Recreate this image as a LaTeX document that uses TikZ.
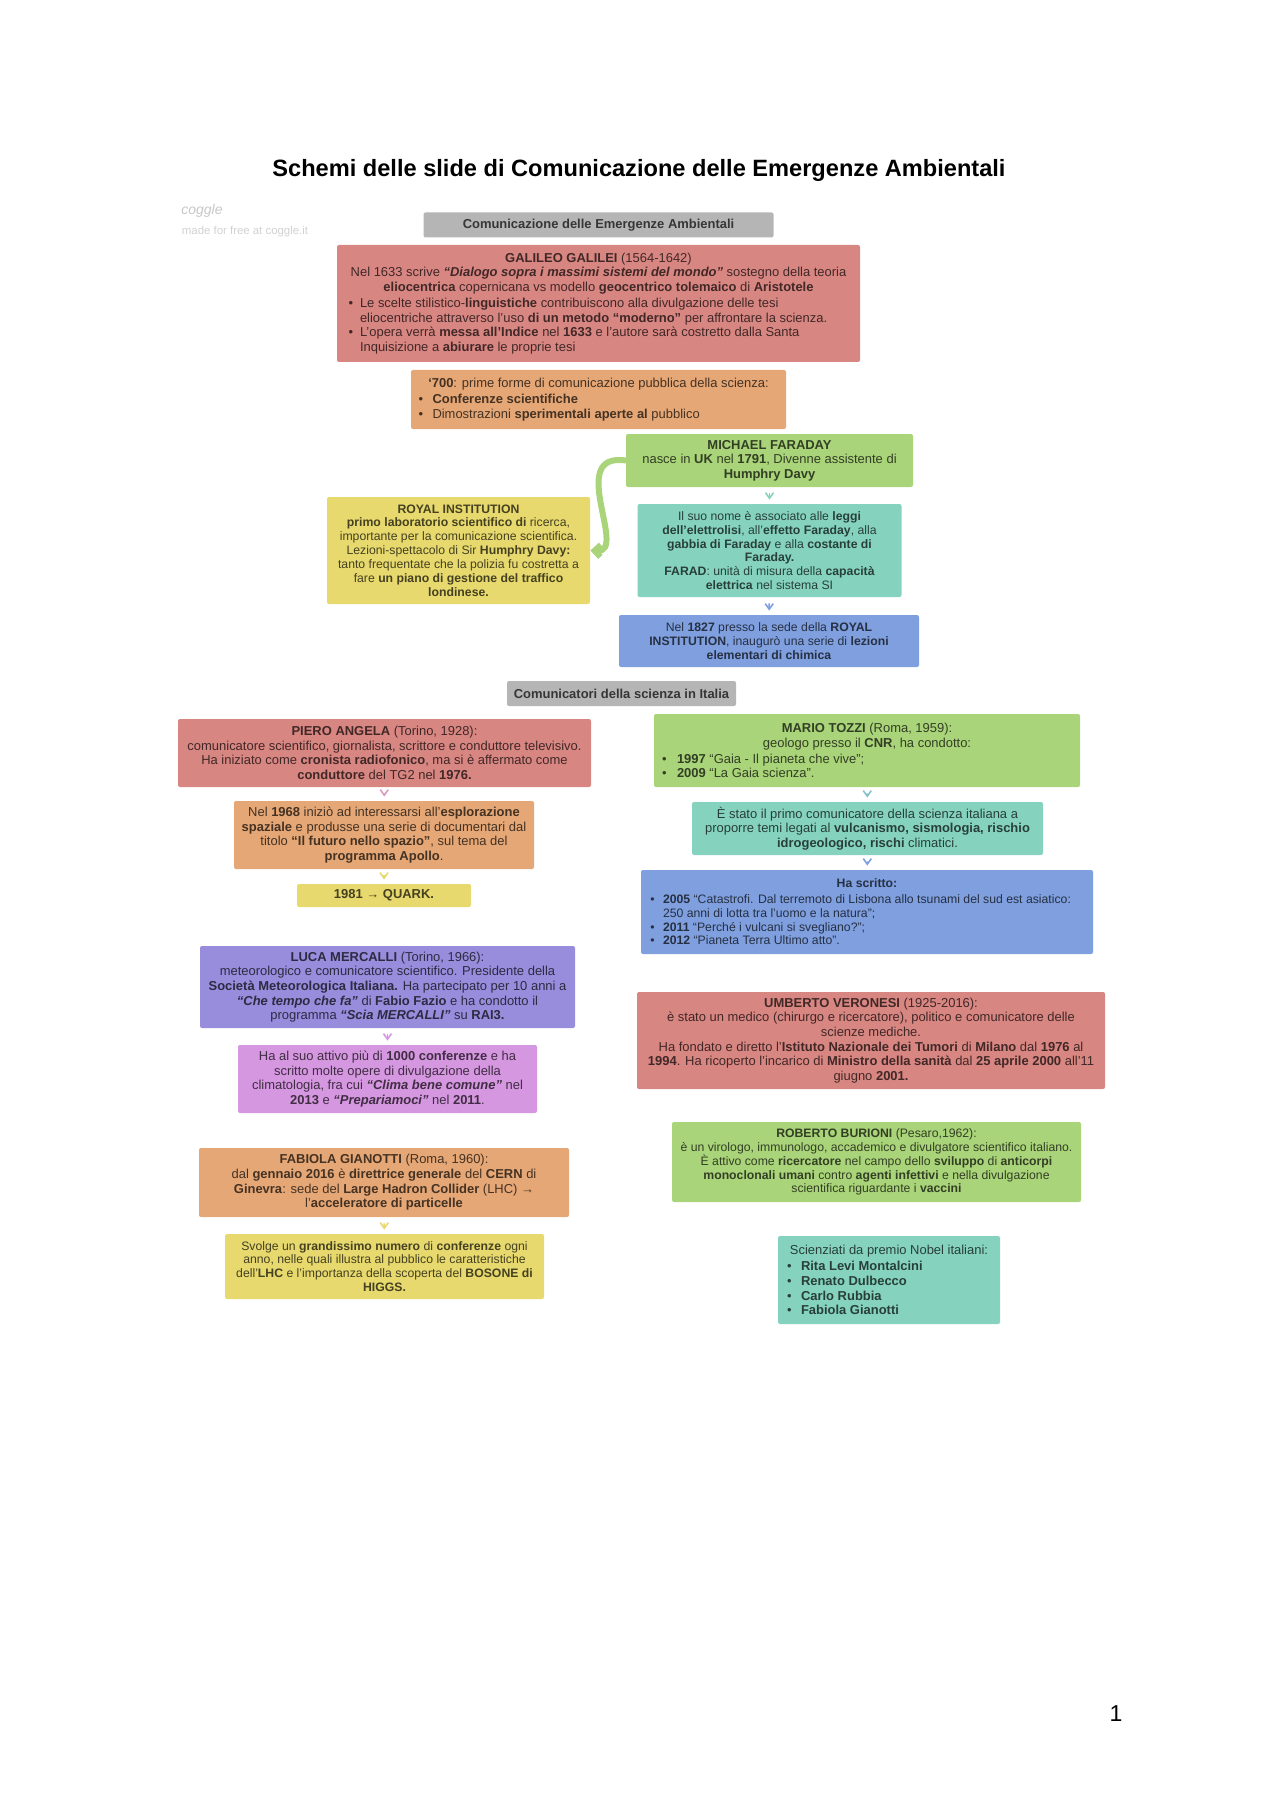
\documentclass[tikz,border=0pt]{standalone}
\usepackage{fontspec}
\setmainfont{Liberation Sans}
\usepackage{tikz}
\usetikzlibrary{arrows.meta}

\definecolor{cardgrey}{HTML}{B5B5B5}
\definecolor{cardred}{HTML}{D88682}
\definecolor{cardorange}{HTML}{E5A776}
\definecolor{cardgreen}{HTML}{A9D479}
\definecolor{cardteal}{HTML}{85D3BF}
\definecolor{cardblue}{HTML}{7F9FDF}
\definecolor{cardyellow}{HTML}{E7D96E}
\definecolor{cardviolet}{HTML}{978DDC}
\definecolor{cardpink}{HTML}{D597E0}

\newcommand{\cardfont}{\fontsize{6.48}{7.33}\selectfont}
\newcommand{\tightfont}{\fontsize{6.12}{6.95}\selectfont}

\newenvironment{bullets}[1]{%
	\begin{list}{\textbullet}{\setlength\leftmargin{#1}\setlength\labelwidth{2.3pt}\setlength\labelsep{\dimexpr#1-2.3pt\relax}%
		\setlength\itemsep{0pt}\setlength\parsep{0pt}\setlength\topsep{0.8pt}\setlength\partopsep{0pt}\setlength\itemindent{0pt}}\raggedright}%
	{\end{list}}

\tikzset{
	card/.style={fill=#1,text=#1!30!black,rounded corners=1pt,inner sep=0pt,align=center,font=\cardfont},
	tight/.style={font=\tightfont},
	box/.style 2 args={minimum width=#1*0.5pt,minimum height=#2*0.5pt},
	link/.style={draw=#1,line width=0.8pt,shorten >=2pt,shorten <=3pt,-{Straight Barb[length=2.8pt,width=4pt]}},
}

\begin{document}
\begin{tikzpicture}[x=0.5pt,y=-0.5pt]
		\useasboundingbox (0,0) rectangle (1280,1808);

		\node[font=\fontsize{11.8}{13}\selectfont\bfseries] (title) at (639,170.5){Schemi delle slide di Comunicazione delle Emergenze Ambientali};
		\node[text=black!22,font=\fontsize{7}{9}\selectfont\itshape\rmfamily] (logo) at (202,211){coggle};
		\node[text=black!18,font=\fontsize{5.7}{7}\selectfont] (madefor) at (245,232){made for free at coggle.it};

		\node[card=cardgrey,box={350}{25}] (mainhead) at (598.5,225){\textbf{Comunicazione delle Emergenze Ambientali}};

		\node[card=cardred,box={523}{117}] (galileo) at (598.5,303.5){\begin{minipage}{250pt}
						\centering
						\textbf{GALILEO GALILEI} (1564-1642)\\
						Nel 1633 scrive \textbf{\textit{``Dialogo sopra i massimi sistemi del mondo''}} sostegno della teoria\\
						\textbf{eliocentrica} copernicana vs modello \textbf{geocentrico tolemaico} di \textbf{Aristotele}
						\begin{bullets}{5.75pt}
								\item Le scelte stilistico-\textbf{linguistiche} contribuiscono alla divulgazione delle tesi\\
										eliocentriche attraverso l'uso \textbf{di un metodo ``moderno''} per affrontare la scienza.
								\item L'opera verrà \textbf{messa all'Indice} nel \textbf{1633} e l'autore sarà costretto dalla Santa\\
										Inquisizione a \textbf{abiurare} le proprie tesi
						\end{bullets}
					\end{minipage}};

		\node[card=cardorange,box={375}{59}] (settecento) at (598.5,399.5){\begin{minipage}{180pt}
						\centering
						\textbf{`700}: prime forme di comunicazione pubblica della scienza:
						\begin{bullets}{7pt}
								\item \textbf{Conferenze scientifiche}
								\item Dimostrazioni \textbf{sperimentali aperte al} pubblico
						\end{bullets}
					\end{minipage}};

		\node[card=cardgreen,box={287}{53}] (faraday) at (769.5,460.5){\textbf{MICHAEL FARADAY}\\nasce in \textbf{UK} nel \textbf{1791}, Divenne assistente di\\\textbf{Humphry Davy}};
		\node[card=cardteal,tight,box={264}{93}] (leggi) at (769.5,550.5){Il suo nome è associato alle \textbf{leggi}\\\textbf{dell'elettrolisi}, all'\textbf{effetto Faraday}, alla\\\textbf{gabbia di Faraday} e alla \textbf{costante di}\\\textbf{Faraday.}\\\textbf{FARAD}: unità di misura della \textbf{capacità}\\\textbf{elettrica} nel sistema SI};
		\node[card=cardblue,tight,box={300}{52}] (lezioni) at (769,641){Nel \textbf{1827} presso la sede della \textbf{ROYAL}\\\textbf{INSTITUTION}, inaugurò una serie di \textbf{lezioni}\\\textbf{elementari di chimica}};
		\node[card=cardyellow,tight,box={263}{107}] (royal) at (458.5,550.5){\textbf{ROYAL INSTITUTION}\\\textbf{primo laboratorio scientifico di} ricerca,\\importante per la comunicazione scientifica.\\Lezioni-spettacolo di Sir \textbf{Humphry Davy:}\\tanto frequentate che la polizia fu costretta a\\fare \textbf{un piano di gestione del traffico}\\\textbf{londinese.}};

		\node[card=cardgrey,box={229}{25}] (italyhead) at (621.5,693.5){\textbf{Comunicatori della scienza in Italia}};

		\node[card=cardred,box={413}{68}] (angela) at (384.5,753){\textbf{PIERO ANGELA} (Torino, 1928):\\comunicatore scientifico, giornalista, scrittore e conduttore televisivo.\\Ha iniziato come \textbf{cronista radiofonico}, ma si è affermato come\\\textbf{conduttore} del TG2 nel \textbf{1976.}};
		\node[card=cardorange,box={300}{68}] (apollo) at (384,835){Nel \textbf{1968} iniziò ad interessarsi all'\textbf{esplorazione}\\\textbf{spaziale} e produsse una serie di documentari dal\\titolo \textbf{``Il futuro nello spazio''}, sul tema del\\\textbf{programma Apollo}.};
		\node[card=cardyellow,box={174}{23}] (quark) at (384,895.5){\textbf{1981 → QUARK.}};

		\node[card=cardviolet,box={375}{82}] (mercalli) at (387.5,987){\textbf{LUCA MERCALLI} (Torino, 1966):\\meteorologico e comunicatore scientifico. Presidente della\\\textbf{Società Meteorologica Italiana.} Ha partecipato per 10 anni a\\\textbf{\textit{``Che tempo che fa''}} di \textbf{Fabio Fazio} e ha condotto il\\programma \textbf{\textit{``Scia MERCALLI''}} su \textbf{RAI3.}};
		\node[card=cardpink,box={299}{68}] (clima) at (387.5,1079){Ha al suo attivo più di \textbf{1000 conferenze} e ha\\scritto molte opere di divulgazione della\\climatologia, fra cui \textbf{\textit{``Clima bene comune''}} nel\\\textbf{2013} e \textbf{\textit{``Prepariamoci''}} nel \textbf{2011}.};

		\node[card=cardorange,box={370}{69}] (gianotti) at (384,1182.5){\textbf{FABIOLA GIANOTTI} (Roma, 1960):\\dal \textbf{gennaio 2016} è \textbf{direttrice generale} del \textbf{CERN} di\\\textbf{Ginevra}: sede del \textbf{Large Hadron Collider} (LHC) →\\l'\textbf{acceleratore di particelle}};
		\node[card=cardyellow,tight,box={319}{65}] (higgs) at (384.5,1266.5){Svolge un \textbf{grandissimo numero} di \textbf{conferenze} ogni\\anno, nelle quali illustra al pubblico le caratteristiche\\dell'\textbf{LHC} e l'importanza della scoperta del \textbf{BOSONE di}\\\textbf{HIGGS.}};

		\node[card=cardgreen,box={426}{73}] (tozzi) at (867,750.5){\begin{minipage}{205pt}
						\centering
						\textbf{MARIO TOZZI} (Roma, 1959):\\
						geologo presso il \textbf{CNR}, ha condotto:
						\begin{bullets}{7.5pt}
								\item \textbf{1997} ``Gaia - Il pianeta che vive'';
								\item \textbf{2009} ``La Gaia scienza''.
						\end{bullets}
					\end{minipage}};
		\node[card=cardteal,box={351}{53}] (vulcani) at (867.5,828.5){È stato il primo comunicatore della scienza italiana a\\proporre temi legati al \textbf{vulcanismo, sismologia, rischio}\\\textbf{idrogeologico, rischi} climatici.};
		\node[card=cardblue,tight,box={452}{84}] (scritti) at (867,912){\begin{minipage}{217pt}
						\centering
						\textbf{Ha scritto:}
						\begin{bullets}{6.5pt}
								\item \textbf{2005} ``Catastrofi. Dal terremoto di Lisbona allo tsunami del sud est asiatico:\\
										250 anni di lotta tra l'uomo e la natura'';
								\item \textbf{2011} ``Perché i vulcani si svegliano?'';
								\item \textbf{2012} ``Pianeta Terra Ultimo atto''.
						\end{bullets}
					\end{minipage}};

		\node[card=cardred,box={468}{97}] (veronesi) at (871,1040.5){\textbf{UMBERTO VERONESI} (1925-2016):\\è stato un medico (chirurgo e ricercatore), politico e comunicatore delle\\scienze mediche.\\Ha fondato e diretto l'\textbf{Istituto Nazionale dei Tumori} di \textbf{Milano} dal \textbf{1976} al\\\textbf{1994}. Ha ricoperto l'incarico di \textbf{Ministro della sanità} dal \textbf{25 aprile 2000} all'11\\giugno \textbf{2001.}};

		\node[card=cardgreen,tight,box={409}{80}] (burioni) at (876.5,1162){\textbf{ROBERTO BURIONI} (Pesaro,1962):\\è un virologo, immunologo, accademico e divulgatore scientifico italiano.\\È attivo come \textbf{ricercatore} nel campo dello \textbf{sviluppo} di \textbf{anticorpi}\\\textbf{monoclonali umani} contro \textbf{agenti infettivi} e nella divulgazione\\scientifica riguardante i \textbf{vaccini}};

		\node[card=cardteal,box={222}{88}] (nobel) at (889,1280){\begin{minipage}{102pt}
						\centering
						Scienziati da premio Nobel italiani:
						\begin{bullets}{7pt}
								\item \textbf{Rita Levi Montalcini}
								\item \textbf{Renato Dulbecco}
								\item \textbf{Carlo Rubbia}
								\item \textbf{Fabiola Gianotti}
						\end{bullets}
					\end{minipage}};

		\node[font=\fontsize{11.5}{13}\selectfont] (pagenum) at (1116,1714){1};

		\draw[link=cardteal] (faraday) -- (leggi);
		\draw[link=cardblue] (leggi) -- (lezioni);
		\draw[cardgreen,line width=3pt,line cap=round,-{Straight Barb[length=3pt,width=6pt]}] (faraday.west) .. controls (566,452) and (628,552) .. (royal.east);
		\draw[link=cardpink!70!cardorange] (angela) -- (apollo);
		\draw[link=cardyellow] (apollo) -- (quark);
		\draw[link=cardpink] (mercalli) -- (clima);
		\draw[link=cardyellow] (gianotti) -- (higgs);
		\draw[link=cardteal!70!cardblue] (tozzi) -- (vulcani);
		\draw[link=cardblue] (vulcani) -- (scritti);
\end{tikzpicture}
\end{document}
